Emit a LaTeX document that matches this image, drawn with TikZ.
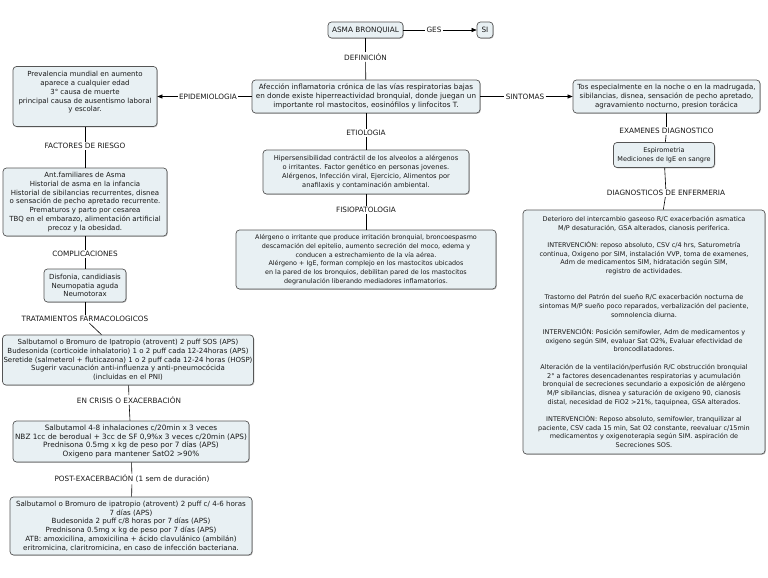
\documentclass[tikz,border=0pt]{standalone}
\usepackage{fontspec}
\setmainfont{DejaVu Sans}
\usetikzlibrary{arrows.meta,shadows}
\definecolor{boxfill}{RGB}{232,240,243}
\definecolor{boxline}{RGB}{85,85,85}
\definecolor{txt}{RGB}{25,25,25}
\begin{document}
\begin{tikzpicture}[x=1pt,y=-1pt,
 concept/.style={draw=boxline, line width=0.7pt, fill=boxfill, rounded corners=3.5pt, align=center, inner sep=1pt, text=txt,
   font=\fontsize{6.4}{8.7}\selectfont,
   drop shadow={shadow xshift=0.8pt,shadow yshift=-0.8pt,fill=gray!80,opacity=0.6}},
 fs/.style={font=\fontsize{#1}{8.7}\selectfont},
 sz/.style 2 args={minimum width=#1pt, minimum height=#2pt},
 link/.style={inner sep=1.2pt, text=txt, font=\fontsize{7.3}{8}\selectfont},
 conn/.style={draw=black, line width=0.6pt},
 arr/.style={conn, -{Triangle[length=5pt,width=4pt]}}
]
\useasboundingbox[fill=white] (0,0) rectangle (768,578);

% top
\node[concept, fs=7.3, sz={75}{16}] (asma) at (365.5,30) {ASMA BRONQUIAL};
\node[concept, fs=7.3, sz={16}{16}] (si) at (485,30) {SI};
\node[link] (ges) at (434,30) {GES};
\draw[conn] (asma) -- (ges);
\draw[arr] (ges) -- (si);

% center column
\node[link] (defi) at (365.5,57) {DEFINICIÓN};
\node[concept, fs=7.2, sz={228}{33}] (afec) at (366,96.5) {Afección inflamatoria crónica de las vías respiratorias bajas\\en donde existe hiperreactividad bronquial, donde juegan un\\importante rol mastocitos, eosinófilos y linfocitos T.};
\draw[conn] (asma) -- (defi);
\draw[conn] (defi) -- (afec);

\node[link] (etio) at (366,133) {ETIOLOGIA};
\node[concept, fs=6.7, sz={206}{44}] (hiper) at (366,172) {Hipersensibilidad contráctil de los alveolos a alérgenos\\o irritantes. Factor genético en personas jovenes.\\Alérgenos, Infección viral, Ejercicio, Alimentos por\\anafilaxis y contaminación ambiental.};
\draw[conn] (afec) -- (etio);
\draw[conn] (etio) -- (hiper);

\node[link] (fisio) at (366,210) {FISIOPATOLOGIA};
\node[concept, fs=6.4, sz={260}{59}] (alerg) at (366,259.5) {Alérgeno o irritante que produce irritación bronquial, broncoespasmo\\descamación del epitelio, aumento secreción del moco, edema y\\conducen a estrechamiento de la vía aérea.\\Alérgeno + IgE, forman complejo en los mastocitos ubicados\\en la pared de los bronquios, debilitan pared de los mastocitos\\degranulación liberando mediadores inflamatorios.};
\draw[conn] (hiper) -- (fisio);
\draw[conn] (fisio) -- (alerg);

% left column
\node[link] (epi) at (208,96.5) {EPIDEMIOLOGIA};
\node[concept, fs=7.0, sz={144}{60}] (prev) at (85,96.5) {Prevalencia mundial en aumento\\aparece a cualquier edad\\3° causa de muerte\\principal causa de ausentismo laboral\\y escolar.\\[1pt]\mbox{}};
\draw[conn] (afec) -- (epi);
\draw[arr] (epi) -- (prev);

\node[link] (fact) at (85,146) {FACTORES DE RIESGO};
\node[concept, fs=7.0, sz={164}{68}] (ant) at (85,202) {Ant.familiares de Asma\\Historial de asma en la infancia\\Historial de sibilancias recurrentes, disnea\\o sensación de pecho apretado recurrente.\\Prematuros y parto por cesarea\\TBQ en el embarazo, alimentación artificial\\precoz y la obesidad.};
\draw[conn] (prev) -- (fact);
\draw[conn] (fact) -- (ant);

\node[link] (compl) at (85,254) {COMPLICACIONES};
\node[concept, fs=7.0, sz={82}{33}] (disf) at (85,285.5) {Disfonia, candidiasis\\Neumopatia aguda\\Neumotorax};
\draw[conn] (ant) -- (compl);
\draw[conn] (compl) -- (disf);

\node[link] (trat) at (85,319) {TRATAMIENTOS FARMACOLOGICOS};
\node[concept, fs=7.0, sz={251}{50}] (t1) at (128,360) {Salbutamol o Bromuro de Ipatropio (atrovent) 2 puff SOS (APS)\\Budesonida (corticoide inhalatorio) 1 o 2 puff cada 12-24horas (APS)\\Seretide (salmeterol + fluticazona) 1 o 2 puff cada 12-24 horas (HOSP)\\Sugerir vacunación anti-influenza y anti-pneumocócida\\(incluidas en el PNI)};
\draw[conn] (disf) -- (trat);
\draw[conn] (trat) -- (t1);

\node[link] (crisis) at (129,400) {EN CRISIS O EXACERBACIÓN};
\node[concept, fs=7.3, sz={236}{41}] (t2) at (131,441.5) {Salbutamol 4-8 inhalaciones c/20min x 3 veces\\NBZ 1cc de berodual + 3cc de SF 0,9\%x 3 veces c/20min (APS)\\Prednisona 0.5mg x kg de peso por 7 días (APS)\\Oxigeno para mantener SatO2 >90\%};
\draw[conn] (t1) -- (crisis);
\draw[conn] (crisis) -- (t2);

\node[link] (post) at (132,479) {POST-EXACERBACIÓN (1 sem de duración)};
\node[concept, fs=7.1, sz={242}{58}] (t3) at (131,526) {Salbutamol o Bromuro de ipatropio (atrovent) 2 puff c/ 4-6 horas\\7 días (APS)\\Budesonida 2 puff c/8 horas por 7 días (APS)\\Prednisona 0.5mg x kg de peso por 7 días (APS)\\ATB: amoxicilina, amoxicilina + ácido clavulánico (ambilán)\\eritromicina, claritromicina, en caso de infección bacteriana.};
\draw[conn] (t2) -- (post);
\draw[conn] (post) -- (t3);

% right column
\node[link] (sint) at (525,96.5) {SINTOMAS};
\node[concept, fs=7.0, sz={187}{33}] (tos) at (666.5,96.5) {Tos especialmente en la noche o en la madrugada,\\sibilancias, disnea, sensación de pecho apretado,\\agravamiento nocturno, presion torácica};
\draw[conn] (afec) -- (sint);
\draw[arr] (sint) -- (tos);

\node[link] (exam) at (666.5,131) {EXAMENES DIAGNOSTICO};
\node[concept, fs=6.5, sz={101}{25}] (espiro) at (664,155) {Espirometria\\Mediciones de IgE en sangre};
\draw[conn] (tos) -- (exam);
\draw[conn] (exam) -- (espiro);

\node[link] (diag) at (666,193) {DIAGNOSTICOS DE ENFERMERIA};
\node[concept, fs=6.5, sz={242}{244}] (big) at (644,332) {Deterioro del intercambio gaseoso R/C exacerbación asmatica\\M/P desaturación, GSA alterados, cianosis periferica.\\[8.7pt]INTERVENCIÓN: reposo absoluto, CSV c/4 hrs, Saturometría\\continua, Oxigeno por SIM, instalación VVP, toma de examenes,\\Adm de medicamentos SIM, hidratación según SIM,\\registro de actividades.\\[17.4pt]Trastorno del Patrón del sueño R/C exacerbación nocturna de\\sintomas M/P sueño poco reparados, verbalización del paciente,\\somnolencia diurna.\\[8.7pt]INTERVENCIÓN: Posición semifowler, Adm de medicamentos y\\oxigeno según SIM, evaluar Sat O2\%, Evaluar efectividad de\\broncodilatadores.\\[8.7pt]Alteración de la ventilación/perfusión R/C obstrucción bronquial\\2° a factores desencadenantes respiratorias y acumulación\\bronquial de secreciones secundario a exposición de alérgeno\\M/P sibilancias, disnea y saturación de oxigeno 90, cianosis\\distal, necesidad de FiO2 >21\%, taquipnea, GSA alterados.\\[8.7pt]INTERVENCIÓN: Reposo absoluto, semifowler, tranquilizar al\\paciente, CSV cada 15 min, Sat O2 constante, reevaluar c/15min\\medicamentos y oxigenoterapia según SIM. aspiración de\\Secreciones SOS.};
\draw[conn] (espiro) -- (diag);
\draw[conn] (diag) -- (big);
\end{tikzpicture}
\end{document}
